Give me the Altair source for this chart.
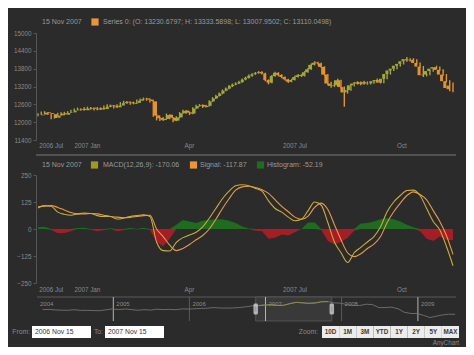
import altair as alt
import pandas as pd

FONT = "Liberation Sans"
BG = "#2b2b2b"
AXIS_TXT = "#8a8a8a"
LEG_TXT = "#9a9a9a"
UP = "#a3a83a"
DOWN = "#e3932f"
MACD_C = "#c9ad3c"
SIGNAL_C = "#e89a45"
HIST_POS = "#1f6b1f"
HIST_NEG = "#a51d25"

# ---------------- price series (every 2nd trading day, 15 Nov 2006 .. 15 Nov 2007) ----------------
price_idx = list(range(0, 253, 2))
price_open = [12230, 12260, 12330, 12310, 12270, 12150, 12230, 12300, 12250, 12320,
              12330, 12400, 12420, 12450, 12400, 12450, 12490, 12460, 12420, 12480,
              12440, 12520, 12570, 12550, 12500, 12560, 12640, 12690, 12670, 12620,
              12650, 12720, 12770, 12800, 12760, 12700, 12230, 12140, 12070, 12110,
              12250, 12150, 12050, 12160, 12300, 12390, 12330, 12290, 12460, 12540,
              12580, 12510, 12550, 12700, 12800, 12880, 12960, 13060, 13130, 13210,
              13270, 13300, 13350, 13440, 13490, 13560, 13620, 13650, 13690, 13640,
              13420, 13330, 13550, 13660, 13590, 13520, 13440, 13360, 13420, 13520,
              13590, 13560, 13680, 13780, 13930, 14010, 13980, 13860, 13600, 13300,
              13220, 13240, 13410, 13180, 13000, 13080, 13240, 13300, 13350, 13280,
              13350, 13300, 13310, 13380, 13420, 13330, 13460, 13620, 13740, 13800,
              13900, 13960, 14050, 14120, 14080, 14100, 13990, 13870, 13580, 13600,
              13720, 13800, 13850, 13760, 13600, 13380, 13230.68]
price_high = [12300, 12360, 12370, 12340, 12290, 12260, 12320, 12330, 12350, 12370,
              12420, 12460, 12490, 12470, 12500, 12520, 12510, 12480, 12510, 12500,
              12560, 12600, 12590, 12570, 12600, 12680, 12720, 12710, 12690, 12690,
              12760, 12800, 12830, 12820, 12780, 12710, 12290, 12180, 12170, 12290,
              12270, 12170, 12200, 12340, 12420, 12410, 12360, 12500, 12590, 12610,
              12600, 12590, 12740, 12840, 12920, 13000, 13100, 13170, 13250, 13300,
              13340, 13390, 13470, 13530, 13600, 13650, 13690, 13720, 13710, 13660,
              13440, 13590, 13700, 13680, 13610, 13540, 13460, 13460, 13560, 13620,
              13610, 13720, 13820, 13970, 14050, 14030, 14000, 13880, 13620, 13360,
              13330, 13460, 13430, 13200, 13130, 13280, 13340, 13380, 13370, 13390,
              13370, 13350, 13420, 13470, 13440, 13500, 13660, 13780, 13840, 13930,
              14000, 14090, 14190, 14150, 14150, 14120, 14010, 13890, 13650, 13760,
              13840, 13900, 13870, 13780, 13620, 13410, 13333.59]
price_low = [12200, 12240, 12260, 12240, 12100, 12120, 12200, 12220, 12230, 12290,
             12310, 12370, 12400, 12380, 12380, 12430, 12420, 12390, 12400, 12410,
             12420, 12500, 12500, 12460, 12480, 12540, 12620, 12620, 12590, 12600,
             12630, 12700, 12750, 12720, 12660, 12180, 12060, 12040, 12040, 12090,
             12100, 12000, 12030, 12140, 12280, 12280, 12240, 12270, 12440, 12520,
             12480, 12490, 12530, 12680, 12780, 12860, 12940, 13040, 13110, 13180,
             13240, 13280, 13330, 13410, 13470, 13530, 13590, 13630, 13600, 13380,
             13270, 13310, 13530, 13540, 13480, 13400, 13320, 13340, 13400, 13500,
             13520, 13540, 13660, 13760, 13910, 13940, 13820, 13560, 13260, 13160,
             13180, 13220, 13130, 12520, 12960, 13060, 13200, 13270, 13240, 13260,
             13260, 13270, 13290, 13360, 13300, 13310, 13440, 13600, 13720, 13780,
             13870, 13940, 14030, 14040, 14060, 13960, 13840, 13520, 13540, 13580,
             13700, 13780, 13720, 13560, 13340, 13040, 13007.95]
price_close = [12250, 12320, 12300, 12280, 12140, 12220, 12290, 12260, 12310, 12330,
               12390, 12420, 12440, 12410, 12460, 12480, 12450, 12430, 12470, 12440,
               12520, 12560, 12540, 12500, 12560, 12640, 12680, 12660, 12630, 12650,
               12720, 12770, 12790, 12760, 12710, 12220, 12130, 12080, 12110, 12240,
               12150, 12050, 12160, 12300, 12380, 12320, 12290, 12460, 12540, 12570,
               12520, 12550, 12700, 12800, 12880, 12960, 13060, 13130, 13210, 13260,
               13300, 13350, 13430, 13490, 13560, 13610, 13650, 13680, 13640, 13420,
               13330, 13550, 13660, 13580, 13520, 13440, 13360, 13420, 13520, 13580,
               13560, 13680, 13780, 13930, 14000, 13980, 13860, 13600, 13300, 13220,
               13240, 13410, 13180, 13000, 13080, 13240, 13300, 13340, 13280, 13350,
               13300, 13310, 13380, 13420, 13330, 13460, 13620, 13740, 13800, 13900,
               13960, 14050, 14120, 14080, 14100, 13990, 13870, 13580, 13600, 13720,
               13800, 13850, 13760, 13600, 13380, 13150, 13110.05]

# ---------------- MACD(12,26,9) (every 4th trading day) ----------------
macd_idx = list(range(0, 253, 4))
macd_line = [97, 108, 105, 78, 68, 64, 70, 74, 72, 62,
             58, 58, 46, 50, 58, 62, 66, 58, -60, -100,
             -102, -62, -40, -28, -15, 10, 50, 95, 140, 175,
             200, 205, 200, 188, 175, 130, 95, 78, 55, 38,
             45, 85, 125, 110, 30, -60, -110, -155, -110, -85,
             -60, -35, 10, 80, 125, 155, 178, 180, 155, 95,
             35, -5, -80, -170.06]
signal_line = [103, 106, 108, 100, 88, 76, 70, 70, 72, 70,
               64, 58, 55, 52, 54, 58, 62, 64, 0, -35,
               -75, -100, -90, -72, -50, -30, 0, 45, 95, 140,
               180, 195, 198, 192, 182, 165, 135, 105, 80, 55,
               45, 60, 100, 120, 90, 20, -50, -110, -128, -115,
               -90, -70, -35, 30, 80, 120, 155, 172, 160, 135,
               85, 35, -30, -117.87]
histogram = [8, 10, -5, -20, -18, -10, 5, 6, -3, -10,
             -6, 4, -10, -6, 6, -2, 6, -5, -60, -80,
             -45, 20, 42, 35, 28, 38, 42, 45, 45, 38,
             28, 12, 2, -8, -10, -45, -40, -25, -30, -15,
             0, 30, 30, -5, -55, -72, -60, -40, -8, 25,
             28, 35, 45, 50, 45, 35, 20, 8, -10, -45,
             -55, -35, -50, -52.19]

x_tick_labels = ["2006 Jul", "2007 Jan", "Apr", "2007 Jul", "Oct"]
x_tick_pos = [8, 30, 92, 156, 221]
price_ticks = [11400, 12000, 12600, 13200, 13800, 14400, 15000]
macd_ticks = [-250, -125, 0, 125, 250]

# ---------------- navigator (monthly, 2004 .. mid 2009) ----------------
nav_values = [10488, 10584, 10358, 10226, 10188, 10435, 10140, 10174, 10080, 10027, 10428, 10783,
              10490, 10766, 10504, 10193, 10467, 10275, 10641, 10482, 10569, 10440, 10806, 10718,
              10865, 10993, 11109, 11367, 11168, 11150, 11186, 11381, 11679, 12081, 12221, 12463,
              12622, 12269, 12354, 13063, 13628, 13409, 13212, 13358, 13896, 13930, 13372, 13265,
              12650, 12266, 12263, 12820, 12638, 11350, 11378, 11544, 10851, 9325, 8829, 8776,
              8001, 7063, 7609, 8168, 8500, 8447]
nav_years = ["2004", "2005", "2006", "2007", "2008", "2009"]
nav_line_bright = [False, True, False, True, False, True]
sel_start, sel_end = "2006-11-15", "2007-11-15"

legend_date = "15 Nov 2007"
price_legend = "Series 0: (O: 13230.6797; H: 13333.5898; L: 13007.9502; C: 13110.0498)"
macd_legend = ["MACD(12,26,9): -170.06", "Signal: -117.87", "Histogram: -52.19"]
range_labels = ["From:", "To:"]
range_inputs = ["2006 Nov 15", "2007 Nov 15"]
zoom_buttons = ["10D", "1M", "3M", "YTD", "1Y", "2Y", "5Y", "MAX"]

# ---------------- tables ----------------
price = pd.DataFrame({"i": price_idx, "o": price_open, "h": price_high,
                      "l": price_low, "c": price_close})
price["dir"] = ["up" if c >= o else "down" for o, c in zip(price_open, price_close)]
macd = pd.DataFrame({"i": macd_idx, "m": macd_line, "s": signal_line, "hv": histogram})
xl = pd.DataFrame({"i": x_tick_pos, "t": x_tick_labels})
nav_dates = pd.date_range("2004-01-01", periods=len(nav_values), freq="MS") + pd.Timedelta(days=27)
nav = pd.DataFrame({"d": nav_dates, "v": nav_values})
nav_sel = nav[(nav["d"] >= pd.Timestamp(sel_start)) & (nav["d"] <= pd.Timestamp(sel_end))]
years = pd.DataFrame({"d": [pd.Timestamp(y + "-01-01") for y in nav_years], "t": nav_years,
                      "b": ["bright" if b else "dim" for b in nav_line_bright]})
sel = pd.DataFrame({"s": [pd.Timestamp(sel_start)], "e": [pd.Timestamp(sel_end)]})
handles = pd.DataFrame({"d": [pd.Timestamp(sel_start), pd.Timestamp(sel_end)]})
btn = pd.DataFrame({"b": zoom_buttons})

# ---------------- scales ----------------
X_P = alt.Scale(domain=[0, 252], range=[2, 417], nice=False, zero=False)
Y_P = alt.Scale(domain=[11400, 15000], range=[132, 25], nice=False, zero=False)
Y_M = alt.Scale(domain=[-250, 250], range=[275, 167], nice=False, zero=False)
DIR = alt.Scale(domain=["up", "down"], range=[UP, DOWN])
X_N = alt.Scale(domain=[alt.DateTime(year=2004, month=1, date=1),
                        alt.DateTime(year=2010, month=1, date=1)], range=[1, 458])
Y_N = alt.Scale(domain=[6000, 15500], range=[312, 290], nice=False, zero=False)
X_B = alt.Scale(domain=zoom_buttons, range=[286, 423], paddingInner=0, paddingOuter=0)

axis_common = dict(orient="left", grid=False, domainColor="#555555", tickColor="#555555",
                   tickSize=3, labelColor=AXIS_TXT, labelFont=FONT, labelFontSize=6.3,
                   labelPadding=2, title="")


def txt(t, x, y, color=LEG_TXT, size=7, align="left", weight="normal"):
    return alt.Chart(pd.DataFrame({"t": [t]})).mark_text(
        font=FONT, fontSize=size, color=color, align=align, baseline="middle",
        fontWeight=weight).encode(x=alt.value(x), y=alt.value(y), text="t:N")


def sq(x, y, color):
    return alt.Chart(pd.DataFrame({"a": [0]})).mark_square(
        size=52, color=color, opacity=1).encode(x=alt.value(x), y=alt.value(y))


def hrule(y, x1, x2, color):
    return alt.Chart(pd.DataFrame({"a": [0]})).mark_rule(color=color, strokeWidth=1).encode(
        x=alt.value(x1), x2=alt.value(x2), y=alt.value(y))


def box(x1, x2, y1, y2, color):
    return alt.Chart(pd.DataFrame({"a": [0]})).mark_rect(color=color).encode(
        x=alt.value(x1), x2=alt.value(x2), y=alt.value(y1), y2=alt.value(y2))


layers = []

# price panel
layers.append(alt.Chart(price).mark_rule(strokeWidth=1.4).encode(
    x=alt.X("i:Q", scale=X_P, axis=None),
    y=alt.Y("l:Q", scale=Y_P, axis=alt.Axis(values=price_ticks, format="d", **axis_common)),
    y2="h:Q",
    color=alt.Color("dir:N", scale=DIR, legend=None)))
layers.append(alt.Chart(price).mark_bar(size=3).encode(
    x=alt.X("i:Q", scale=X_P, axis=None),
    y=alt.Y("o:Q", scale=Y_P, axis=None),
    y2="c:Q",
    color=alt.Color("dir:N", scale=DIR, legend=None)))
layers.append(alt.Chart(xl).mark_text(font=FONT, fontSize=6.3, color=AXIS_TXT, baseline="middle").encode(
    x=alt.X("i:Q", scale=X_P, axis=None), y=alt.value(138), text="t:N"))
layers.append(hrule(147, 0, 420, "#7a7a7a"))

# legends
layers.append(txt(legend_date, 6, 14))
layers.append(sq(59, 14, "#e8953c"))
layers.append(txt(price_legend, 67, 14))
layers.append(txt(legend_date, 6, 157))
layers.append(sq(58.5, 157, "#9e9a28"))
layers.append(txt(macd_legend[0], 67, 157))
layers.append(sq(157.5, 157, "#e8953c"))
layers.append(txt(macd_legend[1], 164, 157))
layers.append(sq(224.5, 157, HIST_POS))
layers.append(txt(macd_legend[2], 231, 157))

# MACD panel
layers.append(alt.Chart(macd).transform_calculate(hp="max(datum.hv, 0)", z="0").mark_area(
    color=HIST_POS, opacity=1).encode(
    x=alt.X("i:Q", scale=X_P, axis=None),
    y=alt.Y("hp:Q", scale=Y_M, axis=None), y2="z:Q"))
layers.append(alt.Chart(macd).transform_calculate(hn="min(datum.hv, 0)", z="0").mark_area(
    color=HIST_NEG, opacity=1).encode(
    x=alt.X("i:Q", scale=X_P, axis=None),
    y=alt.Y("hn:Q", scale=Y_M, axis=None), y2="z:Q"))
layers.append(alt.Chart(macd).mark_line(color=SIGNAL_C, strokeWidth=1.1, interpolate="monotone").encode(
    x=alt.X("i:Q", scale=X_P, axis=None),
    y=alt.Y("s:Q", scale=Y_M, axis=None)))
layers.append(alt.Chart(macd).mark_line(color=MACD_C, strokeWidth=1.1, interpolate="monotone").encode(
    x=alt.X("i:Q", scale=X_P, axis=None),
    y=alt.Y("m:Q", scale=Y_M, axis=alt.Axis(values=macd_ticks, **axis_common))))
layers.append(alt.Chart(xl).mark_text(font=FONT, fontSize=6.3, color=AXIS_TXT, baseline="middle").encode(
    x=alt.X("i:Q", scale=X_P, axis=None), y=alt.value(282), text="t:N"))

# navigator
layers.append(hrule(289, 1, 420, "#5a5a5a"))
layers.append(alt.Chart(sel).mark_rect(color="#393939", stroke="#5c5c5c", strokeWidth=0.8).encode(
    x=alt.X("s:T", scale=X_N, axis=None), x2="e:T", y=alt.value(289), y2=alt.value(313)))
layers.append(alt.Chart(years[years["t"] != "2004"]).mark_rule(strokeWidth=1).encode(
    x=alt.X("d:T", scale=X_N, axis=None), y=alt.value(289), y2=alt.value(313),
    color=alt.Color("b:N", scale=alt.Scale(domain=["bright", "dim"], range=["#b5b5b5", "#5a5a5a"]),
                    legend=None)))
layers.append(alt.Chart(years).mark_text(font=FONT, fontSize=6, color="#8a8a8a", align="left",
                                          baseline="middle", dx=3).encode(
    x=alt.X("d:T", scale=X_N, axis=None), y=alt.value(296), text="t:N"))
layers.append(alt.Chart(nav).mark_line(color="#7a7a7a", strokeWidth=0.8).encode(
    x=alt.X("d:T", scale=X_N, axis=None), y=alt.Y("v:Q", scale=Y_N, axis=None)))
layers.append(alt.Chart(nav_sel).mark_line(color="#8e8e48", strokeWidth=0.9).encode(
    x=alt.X("d:T", scale=X_N, axis=None), y=alt.Y("v:Q", scale=Y_N, axis=None)))
layers.append(alt.Chart(handles).mark_tick(thickness=4.5, size=11, color="#e6e6e6", cornerRadius=1.5,
                                           orient="vertical").encode(
    x=alt.X("d:T", scale=X_N, axis=None), y=alt.value(301)))
layers.append(alt.Chart(handles).mark_tick(thickness=1, size=5, color="#8a8a8a",
                                           orient="vertical").encode(
    x=alt.X("d:T", scale=X_N, axis=None), y=alt.value(301)))

# range inputs and zoom buttons
layers.append(txt(range_labels[0], -6, 324, color="#8a8a8a", size=6.8, align="right"))
layers.append(box(-4, 55, 318, 330, "#ffffff"))
layers.append(txt(range_inputs[0], -1, 324, color="#333333", size=6.8))
layers.append(txt(range_labels[1], 67, 324, color="#8a8a8a", size=6.8, align="right"))
layers.append(box(69, 128, 318, 330, "#ffffff"))
layers.append(txt(range_inputs[1], 72, 324, color="#333333", size=6.8))
layers.append(txt("Zoom:", 282, 324, color="#8a8a8a", size=6.8, align="right"))
layers.append(alt.Chart(btn).mark_rect(color="#ececec").encode(
    x=alt.X("b:N", scale=X_B, axis=None), y=alt.value(318), y2=alt.value(330)))
layers.append(alt.Chart(btn).mark_text(font=FONT, fontSize=6.3, color="#3a3a3a", fontWeight="bold",
                                        baseline="middle").encode(
    x=alt.X("b:N", scale=X_B, axis=None), y=alt.value(324), text="b:N"))
layers.append(txt("AnyChart", 423, 335, color="#8a8a8a", size=6.3, align="right"))

chart = alt.layer(*layers).properties(
    width=430, height=339,
    padding={"left": 28, "top": 0, "right": 0, "bottom": 0},
    autosize=alt.AutoSizeParams(type="none"),
).resolve_scale(
    x="independent", y="independent", color="independent"
).configure(background=BG).configure_view(strokeWidth=0)

chart.save("out.html", embed_options={"renderer": "svg", "actions": False})
